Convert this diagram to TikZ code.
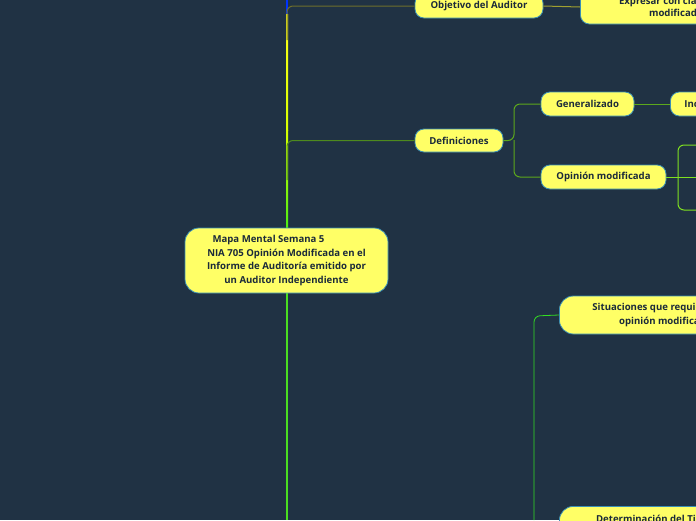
\documentclass[tikz,border=0pt]{standalone}
\usepackage{fontspec}
\setmainfont{Open Sans}
\begin{document}
\begin{tikzpicture}[x=1pt,y=-1pt,
  nd/.style={draw=nbord,line width=0.8pt,fill=nfill,rounded corners=9pt,text=ntext,font=\bfseries\fontsize{9.6}{12}\selectfont,inner sep=0pt,align=center},
  conn/.style={line width=1pt,rounded corners=6pt}]
\definecolor{bg}{HTML}{203244}
\definecolor{nfill}{HTML}{FFFF66}
\definecolor{nbord}{HTML}{3A8FB5}
\definecolor{ntext}{HTML}{1B2A3A}
\definecolor{olv}{HTML}{6E6E2C}
\definecolor{olv2}{HTML}{A0A030}
\definecolor{gdark}{HTML}{4E8A1E}
\definecolor{gmid}{HTML}{5CA81C}
\definecolor{lime}{HTML}{7FE020}
\definecolor{grn}{HTML}{33DD22}
\useasboundingbox (0,0) rectangle (696,520);
\fill[bg] (0,0) rectangle (696,520);
% trunk
\draw[blue!80!cyan,line width=1.6pt] (287,0) -- (287,14);
\shade[top color=yellow!90!white,bottom color=yellow!85!green] (286.2,14) rectangle (288,130);
\shade[top color=yellow!85!green,bottom color=lime!60!green] (286.2,130) rectangle (288,228);
\fill[grn!70!lime] (286.2,293) rectangle (288,520);
% nodes
\node[nd,minimum width=128pt,minimum height=24pt] (obj) at (479,6) {Objetivo del Auditor};
\node[nd,minimum width=240pt,minimum height=34pt,anchor=west] (exp) at (580,7) {Expresar con claridad una opinión\\modificada adecuada};
\node[nd,minimum width=88pt,minimum height=23pt] (def) at (459,140.5) {Definiciones};
\node[nd,minimum height=24pt,anchor=west,inner xsep=14pt] (inc) at (670,104) {Incorrecciones};
\node[nd,minimum width=93pt,minimum height=24pt] (gen) at (587.5,104) {Generalizado};
\node[nd,minimum width=125pt,minimum height=24pt] (opm) at (603.5,177) {Opinión modificada};
\node[nd,minimum width=203pt,minimum height=65pt,rounded corners=14pt,font=\bfseries\fontsize{9.6}{13.5}\selectfont] (cen) at (286.5,260.5) {\hspace*{-36pt}Mapa Mental Semana 5\\NIA 705 Opinión Modificada en el\\Informe de Auditoría emitido por\\un Auditor Independiente};
\node[nd,minimum width=212pt,minimum height=38pt,rounded corners=14pt,anchor=west,font=\bfseries\fontsize{9.6}{14}\selectfont] (sit) at (559,315) {Situaciones que requieren una\\opinión modificada};
\node[nd,minimum width=240pt,minimum height=38pt,rounded corners=14pt,anchor=north west,font=\bfseries\fontsize{9.6}{14}\selectfont] (det) at (559,506) {Determinación del Tipo de Opinión\\\phantom{x}};
% connectors
\draw[conn,olv] (287,40) -- (287,6) -- (obj.west);
\draw[conn,olv2] (obj.east) -- (exp.west);
\draw[conn,gdark] (287,180) -- (287,140.5) -- (def.west);
\draw[conn,gmid] (def.east) -- (514,140.5) -- (514,104) -- (gen.west);
\draw[conn,gmid] (514,140) -- (514,177) -- (opm.west);
\draw[conn,gmid] (gen.east) -- (inc.west);
\coordinate (r1) at (696,145);
\coordinate (r2) at (696,177);
\coordinate (r3) at (696,210);
\draw[conn,lime] (opm.east) -- (r2);
\draw[conn,lime] (r1) -- (678,145) -- (678,210) -- (r3);
\draw[conn,grn,line width=0.8pt] (534,520) -- (534,316) -- (sit.west);
\end{tikzpicture}
\end{document}
